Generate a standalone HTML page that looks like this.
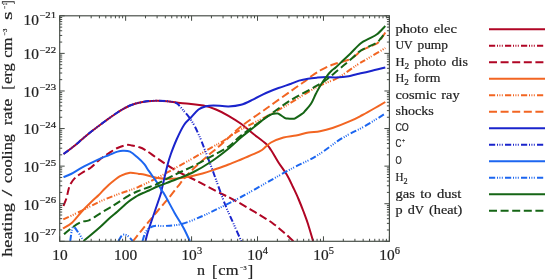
<!DOCTYPE html>
<html><head><meta charset="utf-8"><title>heating / cooling rate</title>
<style>
html,body{margin:0;padding:0;background:#fff;}
body{width:545px;height:280px;overflow:hidden;}
svg{display:block;}
text{font-family:"Liberation Serif",serif;fill:#222;stroke:#222;stroke-width:0.2px;}
</style></head><body>
<svg width="545" height="280" viewBox="0 0 545 280">
<rect width="545" height="280" fill="#fff"/>
<defs><clipPath id="cp"><rect x="59.7" y="15.8" width="329.7" height="225.5"/></clipPath></defs>

<g clip-path="url(#cp)" fill="none" stroke-linejoin="round">
<path d="M63.5,154.0 C65.1,152.8 69.9,149.4 72.9,147.0 C76.0,144.6 78.6,142.2 81.8,139.5 C85.0,136.8 88.1,134.0 92.0,131.0 C95.9,128.0 100.8,124.3 105.0,121.2 C109.2,118.2 113.3,115.1 117.5,112.5 C121.7,109.9 125.8,107.2 130.0,105.5 C134.2,103.8 138.3,102.8 142.5,102.0 C146.7,101.2 150.8,100.9 155.0,100.8 C159.2,100.6 163.3,100.9 167.5,101.2 C171.7,101.6 176.1,102.5 180.0,103.0 C183.9,103.5 187.1,103.6 191.0,104.0 C194.9,104.4 199.3,104.7 203.5,105.6 C207.7,106.5 211.8,107.8 216.0,109.5 C220.2,111.2 224.3,113.4 228.5,115.8 C232.7,118.2 236.8,120.8 241.0,123.8 C245.2,126.8 249.3,130.7 253.5,134.0 C257.7,137.3 263.1,141.1 266.0,143.8 C268.9,146.4 268.9,146.9 271.0,150.0 C273.1,153.1 275.8,158.3 278.5,162.5 C281.2,166.7 284.6,170.9 287.0,175.0 C289.4,179.1 291.1,183.0 293.0,187.0 C294.9,191.0 296.8,194.9 298.5,199.0 C300.2,203.1 301.9,207.3 303.5,211.5 C305.1,215.7 306.4,219.0 308.0,224.0 C309.6,229.0 312.3,238.6 313.2,241.5" stroke="#b00524" stroke-width="2.0"/>
<path d="M63.5,206.0 C64.0,204.6 65.8,200.4 66.6,197.7 C67.4,195.0 67.8,192.2 68.4,190.0 C69.0,187.8 69.2,186.5 70.2,184.6 C71.2,182.7 72.7,180.3 74.6,178.4 C76.5,176.5 79.1,174.8 81.8,173.0 C84.5,171.2 87.7,169.9 90.7,167.7 C93.7,165.5 96.6,162.0 99.6,159.6 C102.6,157.2 105.6,155.3 108.6,153.4 C111.6,151.5 114.5,149.4 117.5,148.0 C120.5,146.6 124.0,145.4 126.4,145.0 C128.8,144.6 129.7,145.1 131.8,145.4 C133.9,145.8 136.7,146.4 138.9,147.1 C141.1,147.8 141.8,147.9 145.0,149.8 C148.2,151.7 152.8,155.3 157.9,158.8 C163.0,162.2 169.5,166.9 175.7,170.4 C181.9,173.9 188.3,176.6 195.0,180.0 C201.7,183.4 209.0,187.4 216.0,191.0 C223.0,194.6 228.9,197.1 237.2,201.7 C245.5,206.3 259.7,214.9 266.0,218.8 C272.3,222.7 271.8,222.6 275.0,225.0 C278.2,227.4 281.9,230.8 285.0,233.5 C288.1,236.2 292.3,240.2 293.8,241.5" stroke="#b00524" stroke-width="2.0" stroke-dasharray="8 3.6"/>
<path d="M63.0,228.5 C64.5,227.5 68.9,225.5 72.0,222.7 C75.1,219.9 78.7,214.9 81.8,211.5 C84.9,208.1 87.9,205.2 90.7,202.5 C93.5,199.8 96.4,197.3 98.8,195.0 C101.1,192.7 102.8,190.7 105.0,188.5 C107.2,186.3 109.4,184.1 112.1,182.0 C114.8,179.9 118.1,177.2 121.1,175.7 C124.1,174.1 127.0,173.0 130.0,172.7 C133.0,172.4 136.4,173.6 138.9,173.9 C141.4,174.2 141.8,174.1 145.0,174.8 C148.2,175.5 153.7,177.3 157.9,178.0 C162.1,178.7 166.0,178.9 170.4,178.8 C174.8,178.7 179.2,178.4 184.6,177.5 C189.9,176.6 197.3,174.9 202.5,173.5 C207.7,172.1 211.7,170.5 216.0,169.0 C220.3,167.5 224.3,166.1 228.5,164.5 C232.7,162.9 236.8,161.2 241.0,159.5 C245.2,157.8 250.0,155.8 253.5,154.2 C257.0,152.7 259.1,152.0 262.0,150.0 C264.9,148.0 267.4,144.6 271.0,142.5 C274.6,140.4 279.3,138.7 283.5,137.5 C287.7,136.3 291.8,136.3 296.0,135.5 C300.2,134.7 304.5,133.2 308.5,132.5 C312.5,131.8 316.0,132.0 320.0,131.2 C324.0,130.5 327.5,129.7 332.5,128.0 C337.5,126.3 345.0,123.4 350.0,121.2 C355.0,119.1 358.3,117.2 362.5,115.0 C366.7,112.8 371.2,110.2 375.0,108.0 C378.8,105.8 383.6,103.0 385.3,102.0" stroke="#f26522" stroke-width="2.0"/>
<path d="M63.3,219.4 C66.5,217.9 76.2,213.4 82.5,210.3 C88.8,207.2 94.8,203.8 100.9,201.1 C107.0,198.3 113.1,196.1 119.2,193.8 C125.3,191.5 131.2,190.0 137.6,187.3 C144.0,184.6 151.6,180.8 157.9,177.5 C164.2,174.2 169.8,171.1 175.7,167.8 C181.6,164.5 187.6,161.3 193.6,157.9 C199.6,154.5 206.3,150.5 211.4,147.6 C216.5,144.7 219.1,143.5 224.0,140.5 C228.9,137.5 231.9,134.6 241.0,129.5 C250.1,124.4 266.0,117.0 278.5,110.0 C291.0,103.0 306.2,92.8 316.0,87.5 C325.8,82.2 330.7,81.8 337.5,78.0 C344.3,74.2 351.5,68.5 356.9,65.0 C362.3,61.5 365.3,60.0 370.0,57.2 C374.7,54.4 382.8,49.5 385.3,48.0" stroke="#f26522" stroke-width="2.0" stroke-dasharray="6.2 1.8 1 1.4 1 1.4 1 2.2"/>
<path d="M132.7,241.5 C133.9,240.0 137.5,235.4 140.0,232.3 C142.5,229.2 144.9,226.3 147.9,222.7 C150.9,219.1 154.4,214.7 158.0,210.5 C161.6,206.3 166.0,201.3 169.3,197.3 C172.6,193.3 175.0,190.1 177.8,186.5 C180.7,182.9 183.2,179.5 186.4,176.0 C189.6,172.5 193.5,168.7 197.1,165.3 C200.7,161.9 204.2,158.9 207.8,155.8 C211.4,152.7 215.0,149.9 218.5,146.8 C222.0,143.7 225.2,140.7 229.0,137.3 C232.8,133.9 234.8,131.3 241.0,126.5 C247.2,121.7 257.7,114.7 266.0,108.8 C274.3,102.8 284.8,95.4 291.0,91.0 C297.2,86.6 300.0,84.8 303.5,82.3 C307.0,79.8 309.2,77.8 312.0,75.8 C314.8,73.8 317.6,71.9 320.0,70.5 C322.4,69.1 324.8,68.1 326.7,67.2 C328.6,66.3 329.7,65.8 331.2,65.2 C332.7,64.6 333.9,64.1 335.9,63.5 C337.9,62.9 340.6,62.2 343.0,61.5 C345.4,60.8 348.0,60.3 350.5,59.0 C353.0,57.7 356.2,54.9 357.9,53.5 C359.6,52.1 358.6,51.9 360.5,50.8 C362.4,49.7 366.2,48.2 369.0,47.0 C371.8,45.8 375.0,44.8 377.0,43.5 C379.0,42.2 379.6,40.8 381.0,39.0 C382.4,37.2 384.6,33.6 385.3,32.5" stroke="#f26522" stroke-width="2.0" stroke-dasharray="8 3.6"/>
<path d="M145.5,241.0 C146.0,239.2 146.0,237.7 148.5,230.0 C151.0,222.3 158.2,201.7 160.4,195.0 C162.6,188.3 160.9,192.8 161.6,190.0 C162.3,187.2 163.4,182.2 164.4,178.0 C165.4,173.8 166.4,169.2 167.5,165.0 C168.6,160.8 169.7,157.2 171.2,153.0 C172.8,148.8 174.5,144.2 176.6,139.5 C178.7,134.8 181.6,128.7 184.0,125.0 C186.4,121.3 188.6,120.1 191.0,117.5 C193.4,114.9 196.0,111.4 198.5,109.5 C201.0,107.6 203.5,106.9 206.0,106.2 C208.5,105.5 209.8,105.4 213.5,105.4 C217.2,105.4 223.9,106.5 228.5,106.4 C233.1,106.3 236.8,106.0 241.0,104.8 C245.2,103.6 249.3,101.3 253.5,99.3 C257.7,97.3 261.8,94.9 266.0,93.0 C270.2,91.1 274.3,89.5 278.5,88.0 C282.7,86.5 287.6,85.0 291.0,83.8 C294.4,82.5 296.2,81.4 299.0,80.6 C301.8,79.8 304.9,79.2 308.0,78.7 C311.1,78.2 314.4,77.9 317.5,77.6 C320.6,77.3 323.6,77.1 326.7,77.1 C329.8,77.1 332.2,77.5 335.9,77.4 C339.6,77.3 345.1,76.9 348.7,76.3 C352.3,75.7 353.9,74.8 357.5,74.0 C361.1,73.2 365.4,72.3 370.0,71.2 C374.6,70.2 382.8,68.1 385.3,67.5" stroke="#1a24cc" stroke-width="2.0"/>
<path d="M63.5,154.0 C65.1,152.8 69.9,149.4 72.9,147.0 C76.0,144.6 78.6,142.2 81.8,139.5 C85.0,136.8 88.1,134.0 92.0,131.0 C95.9,128.0 100.8,124.3 105.0,121.2 C109.2,118.2 113.3,115.1 117.5,112.5 C121.7,109.9 125.8,107.2 130.0,105.5 C134.2,103.8 138.3,102.8 142.5,102.0 C146.7,101.2 150.8,100.9 155.0,100.8 C159.2,100.6 164.3,101.0 167.5,101.2 C170.7,101.5 172.2,101.7 174.0,102.2 C175.8,102.7 176.5,103.0 178.0,104.3 C179.5,105.6 181.1,107.8 183.0,110.0 C184.9,112.2 187.4,114.8 189.4,117.6 C191.4,120.4 193.2,123.3 195.0,126.8 C196.8,130.3 198.9,135.0 200.5,138.7 C202.1,142.4 203.3,145.8 204.5,149.0 C205.7,152.2 206.7,154.7 207.9,157.9 C209.1,161.1 210.4,164.3 211.8,168.0 C213.2,171.7 213.8,173.8 216.1,180.0 C218.3,186.2 222.5,197.9 225.3,205.0 C228.1,212.1 230.3,216.4 233.0,222.5 C235.7,228.6 240.0,238.3 241.4,241.5" stroke="#1a24cc" stroke-width="2.0" stroke-dasharray="6.2 1.8 1 1.4 1 1.4 1 2.2"/>
<path d="M63.5,177.1 C64.8,176.6 68.0,175.6 71.0,174.0 C74.0,172.4 78.5,169.5 81.8,167.7 C85.1,165.9 87.7,164.7 90.7,163.2 C93.7,161.7 96.6,160.1 99.6,158.8 C102.6,157.4 105.6,156.4 108.6,155.2 C111.6,154.0 115.1,152.3 117.5,151.6 C119.9,150.8 120.8,150.7 122.9,150.7 C125.0,150.7 127.6,150.5 130.0,151.6 C132.4,152.7 134.7,154.9 137.1,157.0 C139.5,159.1 142.3,161.7 144.3,164.1 C146.3,166.5 146.7,168.0 149.0,171.2 C151.3,174.5 155.8,180.6 157.9,183.8 C160.0,186.9 160.2,188.1 161.4,190.0 C162.6,191.9 162.6,191.2 164.8,195.0 C167.0,198.8 171.5,207.4 174.6,212.9 C177.7,218.4 181.1,223.3 183.6,228.0 C186.1,232.7 188.8,238.8 189.8,241.0" stroke="#1c66f0" stroke-width="2.0"/>
<path d="M70.2,241.0 C70.7,238.7 71.6,228.6 72.9,227.1 C74.2,225.6 76.2,229.7 78.0,232.0 C79.8,234.3 82.6,239.5 83.5,241.0" stroke="#1c66f0" stroke-width="2.0" stroke-dasharray="6.2 1.8 1 1.4 1 1.4 1 2.2"/>
<path d="M118.4,241.0 C118.9,240.2 120.5,237.1 121.5,236.0 C122.5,234.9 123.4,234.5 124.6,234.6 C125.8,234.7 127.2,235.4 128.5,236.5 C129.8,237.6 132.0,240.2 132.7,241.0" stroke="#1c66f0" stroke-width="2.0" stroke-dasharray="6.2 1.8 1 1.4 1 1.4 1 2.2"/>
<path d="M142.5,241.0 C143.1,239.4 144.2,234.1 146.0,231.6 C147.8,229.1 149.9,227.2 153.2,226.2 C156.5,225.3 160.9,226.3 165.7,225.9 C170.5,225.5 175.9,225.6 181.8,224.0 C187.8,222.4 195.2,219.2 201.4,216.5 C207.7,213.8 212.7,211.2 219.3,208.0 C225.9,204.8 233.2,201.2 241.0,197.0 C248.8,192.8 257.7,187.7 266.0,183.0 C274.3,178.3 282.7,173.5 291.0,169.0 C299.3,164.5 308.2,160.9 316.0,156.2 C323.8,151.6 331.8,145.0 337.5,141.2 C343.2,137.5 345.8,136.0 350.0,133.8 C354.2,131.5 358.3,129.8 362.5,127.5 C366.7,125.2 371.2,122.3 375.0,120.0 C378.8,117.7 383.6,114.6 385.3,113.5" stroke="#1c66f0" stroke-width="2.0" stroke-dasharray="6.2 1.8 1 1.4 1 1.4 1 2.2"/>
<path d="M83.5,241.0 C86.2,238.8 95.2,231.4 99.6,227.5 C104.0,223.6 107.0,220.4 110.0,217.7 C113.0,215.0 114.4,214.2 117.5,211.5 C120.6,208.8 125.2,204.4 128.4,201.8 C131.7,199.2 134.6,197.5 137.0,196.0 C139.4,194.5 141.0,193.9 143.0,193.0 C145.0,192.1 146.5,191.6 149.0,190.5 C151.5,189.4 153.5,188.1 157.9,186.3 C162.3,184.5 169.8,181.9 175.7,179.5 C181.6,177.1 187.6,175.0 193.6,172.0 C199.6,169.0 205.4,165.5 211.4,161.5 C217.4,157.5 224.4,152.0 229.3,148.0 C234.2,144.0 237.0,140.9 241.0,137.5 C245.0,134.1 249.3,130.8 253.5,127.5 C257.7,124.2 262.9,119.8 266.0,117.5 C269.1,115.2 270.4,114.7 272.1,114.0 C273.9,113.3 275.5,113.5 276.5,113.4 C277.5,113.3 277.5,113.4 278.0,113.6 C278.5,113.8 278.4,113.7 279.5,114.4 C280.6,115.1 283.2,116.9 284.3,117.6 C285.4,118.3 285.4,118.2 285.9,118.4 C286.4,118.6 286.4,118.5 287.5,118.6 C288.6,118.7 291.4,118.8 292.5,118.8 C293.6,118.9 293.6,118.9 294.1,118.8 C294.6,118.7 294.2,118.9 295.5,118.1 C296.8,117.3 300.7,114.8 302.0,113.9 C303.3,113.0 302.9,113.3 303.3,112.9 C303.7,112.5 303.2,113.1 304.5,111.6 C305.8,110.1 309.1,106.8 311.0,103.8 C312.9,100.8 314.3,96.7 316.0,93.5 C317.7,90.3 319.2,87.4 321.0,84.5 C322.8,81.6 324.9,78.6 326.7,76.3 C328.4,74.0 330.0,72.3 331.5,70.8 C333.0,69.3 334.0,69.0 335.9,67.3 C337.8,65.6 340.6,62.8 343.0,60.5 C345.4,58.2 347.6,56.3 350.5,53.5 C353.4,50.7 357.4,46.0 360.5,43.5 C363.6,41.0 366.2,40.2 369.0,38.7 C371.8,37.2 374.3,36.4 377.0,34.3 C379.7,32.2 383.9,27.4 385.3,26.0" stroke="#156515" stroke-width="2.0"/>
<path d="M64.0,234.3 C65.5,233.1 69.9,229.1 72.9,227.0 C75.9,224.9 79.1,222.9 81.8,221.8 C84.5,220.7 86.0,221.6 89.0,220.3 C92.0,219.0 96.1,215.9 99.6,213.8 C103.1,211.6 107.0,209.4 110.0,207.6 C113.0,205.8 114.4,204.8 117.5,202.8 C120.6,200.8 125.2,197.7 128.4,195.8 C131.7,193.9 134.6,192.6 137.0,191.5 C139.4,190.4 140.0,190.3 143.0,189.2 C146.0,188.1 152.5,185.9 155.0,185.0 C157.5,184.1 154.5,185.3 157.9,183.5 C161.3,181.7 169.8,177.2 175.7,174.3 C181.6,171.4 187.6,169.0 193.6,166.0 C199.6,163.0 205.4,159.6 211.4,156.3 C217.4,153.0 224.4,149.5 229.3,146.0 C234.2,142.5 234.9,140.2 241.0,135.5 C247.1,130.8 257.7,123.4 266.0,117.5 C274.3,111.6 282.7,105.2 291.0,100.0 C299.3,94.8 310.2,89.6 316.0,86.2 C321.8,82.9 322.4,82.6 326.0,80.0 C329.6,77.4 334.2,73.2 337.5,70.5 C340.8,67.8 343.3,65.8 346.0,63.5 C348.7,61.2 351.1,59.1 353.5,57.0 C355.9,54.9 357.9,52.5 360.5,50.8 C363.1,49.0 366.2,47.9 369.0,46.5 C371.8,45.1 375.1,43.8 377.0,42.5 C378.9,41.2 379.3,40.2 380.7,38.5 C382.1,36.8 384.5,33.5 385.3,32.5" stroke="#156515" stroke-width="2.0" stroke-dasharray="8 3.6"/>
</g>
<path d="M59.70,241.3 v-5 M59.70,15.8 v5 M79.55,241.3 v-2.5 M79.55,15.8 v2.5 M91.16,241.3 v-2.5 M91.16,15.8 v2.5 M99.40,241.3 v-2.5 M99.40,15.8 v2.5 M105.79,241.3 v-2.5 M105.79,15.8 v2.5 M111.01,241.3 v-2.5 M111.01,15.8 v2.5 M115.43,241.3 v-2.5 M115.43,15.8 v2.5 M119.25,241.3 v-2.5 M119.25,15.8 v2.5 M122.62,241.3 v-2.5 M122.62,15.8 v2.5 M125.64,241.3 v-5 M125.64,15.8 v5 M145.49,241.3 v-2.5 M145.49,15.8 v2.5 M157.10,241.3 v-2.5 M157.10,15.8 v2.5 M165.34,241.3 v-2.5 M165.34,15.8 v2.5 M171.73,241.3 v-2.5 M171.73,15.8 v2.5 M176.95,241.3 v-2.5 M176.95,15.8 v2.5 M181.37,241.3 v-2.5 M181.37,15.8 v2.5 M185.19,241.3 v-2.5 M185.19,15.8 v2.5 M188.56,241.3 v-2.5 M188.56,15.8 v2.5 M191.58,241.3 v-5 M191.58,15.8 v5 M211.43,241.3 v-2.5 M211.43,15.8 v2.5 M223.04,241.3 v-2.5 M223.04,15.8 v2.5 M231.28,241.3 v-2.5 M231.28,15.8 v2.5 M237.67,241.3 v-2.5 M237.67,15.8 v2.5 M242.89,241.3 v-2.5 M242.89,15.8 v2.5 M247.31,241.3 v-2.5 M247.31,15.8 v2.5 M251.13,241.3 v-2.5 M251.13,15.8 v2.5 M254.50,241.3 v-2.5 M254.50,15.8 v2.5 M257.52,241.3 v-5 M257.52,15.8 v5 M277.37,241.3 v-2.5 M277.37,15.8 v2.5 M288.98,241.3 v-2.5 M288.98,15.8 v2.5 M297.22,241.3 v-2.5 M297.22,15.8 v2.5 M303.61,241.3 v-2.5 M303.61,15.8 v2.5 M308.83,241.3 v-2.5 M308.83,15.8 v2.5 M313.25,241.3 v-2.5 M313.25,15.8 v2.5 M317.07,241.3 v-2.5 M317.07,15.8 v2.5 M320.44,241.3 v-2.5 M320.44,15.8 v2.5 M323.46,241.3 v-5 M323.46,15.8 v5 M343.31,241.3 v-2.5 M343.31,15.8 v2.5 M354.92,241.3 v-2.5 M354.92,15.8 v2.5 M363.16,241.3 v-2.5 M363.16,15.8 v2.5 M369.55,241.3 v-2.5 M369.55,15.8 v2.5 M374.77,241.3 v-2.5 M374.77,15.8 v2.5 M379.19,241.3 v-2.5 M379.19,15.8 v2.5 M383.01,241.3 v-2.5 M383.01,15.8 v2.5 M386.38,241.3 v-2.5 M386.38,15.8 v2.5 M389.40,241.3 v-5 M389.40,15.8 v5 M59.7,241.30 h5 M389.4,241.30 h-5 M59.7,229.99 h2.5 M389.4,229.99 h-2.5 M59.7,223.37 h2.5 M389.4,223.37 h-2.5 M59.7,218.67 h2.5 M389.4,218.67 h-2.5 M59.7,215.03 h2.5 M389.4,215.03 h-2.5 M59.7,212.05 h2.5 M389.4,212.05 h-2.5 M59.7,209.54 h2.5 M389.4,209.54 h-2.5 M59.7,207.36 h2.5 M389.4,207.36 h-2.5 M59.7,205.44 h2.5 M389.4,205.44 h-2.5 M59.7,203.72 h5 M389.4,203.72 h-5 M59.7,192.40 h2.5 M389.4,192.40 h-2.5 M59.7,185.78 h2.5 M389.4,185.78 h-2.5 M59.7,181.09 h2.5 M389.4,181.09 h-2.5 M59.7,177.45 h2.5 M389.4,177.45 h-2.5 M59.7,174.47 h2.5 M389.4,174.47 h-2.5 M59.7,171.96 h2.5 M389.4,171.96 h-2.5 M59.7,169.78 h2.5 M389.4,169.78 h-2.5 M59.7,167.85 h2.5 M389.4,167.85 h-2.5 M59.7,166.13 h5 M389.4,166.13 h-5 M59.7,154.82 h2.5 M389.4,154.82 h-2.5 M59.7,148.20 h2.5 M389.4,148.20 h-2.5 M59.7,143.51 h2.5 M389.4,143.51 h-2.5 M59.7,139.86 h2.5 M389.4,139.86 h-2.5 M59.7,136.89 h2.5 M389.4,136.89 h-2.5 M59.7,134.37 h2.5 M389.4,134.37 h-2.5 M59.7,132.19 h2.5 M389.4,132.19 h-2.5 M59.7,130.27 h2.5 M389.4,130.27 h-2.5 M59.7,128.55 h5 M389.4,128.55 h-5 M59.7,117.24 h2.5 M389.4,117.24 h-2.5 M59.7,110.62 h2.5 M389.4,110.62 h-2.5 M59.7,105.92 h2.5 M389.4,105.92 h-2.5 M59.7,102.28 h2.5 M389.4,102.28 h-2.5 M59.7,99.30 h2.5 M389.4,99.30 h-2.5 M59.7,96.79 h2.5 M389.4,96.79 h-2.5 M59.7,94.61 h2.5 M389.4,94.61 h-2.5 M59.7,92.69 h2.5 M389.4,92.69 h-2.5 M59.7,90.97 h5 M389.4,90.97 h-5 M59.7,79.65 h2.5 M389.4,79.65 h-2.5 M59.7,73.03 h2.5 M389.4,73.03 h-2.5 M59.7,68.34 h2.5 M389.4,68.34 h-2.5 M59.7,64.70 h2.5 M389.4,64.70 h-2.5 M59.7,61.72 h2.5 M389.4,61.72 h-2.5 M59.7,59.21 h2.5 M389.4,59.21 h-2.5 M59.7,57.03 h2.5 M389.4,57.03 h-2.5 M59.7,55.10 h2.5 M389.4,55.10 h-2.5 M59.7,53.38 h5 M389.4,53.38 h-5 M59.7,42.07 h2.5 M389.4,42.07 h-2.5 M59.7,35.45 h2.5 M389.4,35.45 h-2.5 M59.7,30.76 h2.5 M389.4,30.76 h-2.5 M59.7,27.11 h2.5 M389.4,27.11 h-2.5 M59.7,24.14 h2.5 M389.4,24.14 h-2.5 M59.7,21.62 h2.5 M389.4,21.62 h-2.5 M59.7,19.44 h2.5 M389.4,19.44 h-2.5 M59.7,17.52 h2.5 M389.4,17.52 h-2.5 M59.7,15.80 h5 M389.4,15.80 h-5" stroke="#444a44" stroke-width="1" fill="none"/>
<rect x="59.7" y="15.8" width="329.7" height="225.5" fill="none" stroke="#444a44" stroke-width="1.15"/>
<text transform="translate(39.00,24.90) scale(1.1,1)" font-size="14" text-anchor="end" >10</text>
<text transform="translate(39.20,18.40) scale(1.2,1)" font-size="9" text-anchor="start" >−21</text>
<text transform="translate(39.00,59.28) scale(1.1,1)" font-size="14" text-anchor="end" >10</text>
<text transform="translate(39.20,52.78) scale(1.2,1)" font-size="9" text-anchor="start" >−22</text>
<text transform="translate(39.00,96.87) scale(1.1,1)" font-size="14" text-anchor="end" >10</text>
<text transform="translate(39.20,90.37) scale(1.2,1)" font-size="9" text-anchor="start" >−23</text>
<text transform="translate(39.00,134.45) scale(1.1,1)" font-size="14" text-anchor="end" >10</text>
<text transform="translate(39.20,127.95) scale(1.2,1)" font-size="9" text-anchor="start" >−24</text>
<text transform="translate(39.00,172.03) scale(1.1,1)" font-size="14" text-anchor="end" >10</text>
<text transform="translate(39.20,165.53) scale(1.2,1)" font-size="9" text-anchor="start" >−25</text>
<text transform="translate(39.00,209.62) scale(1.1,1)" font-size="14" text-anchor="end" >10</text>
<text transform="translate(39.20,203.12) scale(1.2,1)" font-size="9" text-anchor="start" >−26</text>
<text transform="translate(39.00,241.60) scale(1.1,1)" font-size="14" text-anchor="end" >10</text>
<text transform="translate(39.20,235.10) scale(1.2,1)" font-size="9" text-anchor="start" >−27</text>
<text transform="translate(60.00,259.90) scale(1.1,1)" font-size="14" text-anchor="middle" >10</text>
<text transform="translate(125.64,259.90) scale(1.1,1)" font-size="14" text-anchor="middle" >100</text>
<text transform="translate(196.78,259.90) scale(1.1,1)" font-size="14" text-anchor="end" >10</text>
<text transform="translate(196.88,254.30) scale(1.1,1)" font-size="9.5" text-anchor="start" >3</text>
<text transform="translate(262.72,259.90) scale(1.1,1)" font-size="14" text-anchor="end" >10</text>
<text transform="translate(262.82,254.30) scale(1.1,1)" font-size="9.5" text-anchor="start" >4</text>
<text transform="translate(328.66,259.90) scale(1.1,1)" font-size="14" text-anchor="end" >10</text>
<text transform="translate(328.76,254.30) scale(1.1,1)" font-size="9.5" text-anchor="start" >5</text>
<text transform="translate(394.60,259.90) scale(1.1,1)" font-size="14" text-anchor="end" >10</text>
<text transform="translate(394.70,254.30) scale(1.1,1)" font-size="9.5" text-anchor="start" >6</text>
<text transform="translate(197.00,275.00) scale(1.15,1)" font-size="14" text-anchor="start" >n</text>
<text transform="translate(212.00,276.60) scale(1.0,1)" font-size="16.5" text-anchor="start" >[</text>
<text transform="translate(218.30,275.00) scale(1.18,1)" font-size="14" text-anchor="start" >cm</text>
<text transform="translate(240.00,269.90) scale(1.0,1)" font-size="6.2" text-anchor="start" >−3</text>
<text transform="translate(247.80,276.60) scale(1.0,1)" font-size="16.5" text-anchor="start" >]</text>
<text transform="translate(11.60,256.80) rotate(-90)" font-size="14" textLength="53.6" lengthAdjust="spacingAndGlyphs">heating</text>
<text transform="translate(11.60,196.30) rotate(-90)" font-size="14" textLength="6.5" lengthAdjust="spacingAndGlyphs">/</text>
<text transform="translate(11.60,182.90) rotate(-90)" font-size="14" textLength="48.8" lengthAdjust="spacingAndGlyphs">cooling</text>
<text transform="translate(11.60,125.20) rotate(-90)" font-size="14" textLength="26.5" lengthAdjust="spacingAndGlyphs">rate</text>
<text transform="translate(11.80,89.40) rotate(-90)" font-size="15.5" textLength="4.2" lengthAdjust="spacingAndGlyphs">[</text>
<text transform="translate(11.60,84.10) rotate(-90)" font-size="14" textLength="20.8" lengthAdjust="spacingAndGlyphs">erg</text>
<text transform="translate(11.60,57.80) rotate(-90)" font-size="14" textLength="20.4" lengthAdjust="spacingAndGlyphs">cm</text>
<text transform="translate(6.60,35.30) rotate(-90)" font-size="6.5" textLength="6.6" lengthAdjust="spacingAndGlyphs">−3</text>
<text transform="translate(11.60,20.10) rotate(-90)" font-size="14" textLength="8.6" lengthAdjust="spacingAndGlyphs">s</text>
<text transform="translate(6.60,8.80) rotate(-90)" font-size="6.5" textLength="6.0" lengthAdjust="spacingAndGlyphs">−1</text>
<text transform="translate(11.80,4.60) rotate(-90)" font-size="15.5" textLength="4.2" lengthAdjust="spacingAndGlyphs">]</text>
<text x="395.4" y="32.5" font-size="13" textLength="61.6" lengthAdjust="spacingAndGlyphs" word-spacing="1.5">photo elec</text>
<path d="M489,29.3 H546" stroke="#b00524" stroke-width="2.0" fill="none"/>
<text x="395.4" y="49.0" font-size="13" textLength="52.6" lengthAdjust="spacingAndGlyphs" word-spacing="1.5"><tspan font-size="11.5">UV</tspan> pump</text>
<path d="M489,45.8 H546" stroke="#b00524" stroke-width="2.0" fill="none" stroke-dasharray="6.2 1.8 1 1.4 1 1.4 1 2.2"/>
<text x="395.4" y="65.5" font-size="13" textLength="72.6" lengthAdjust="spacingAndGlyphs" word-spacing="1.5"><tspan font-size="11.5">H</tspan><tspan font-size="8.5" dy="3">2</tspan><tspan dy="-3"> photo dis</tspan></text>
<path d="M489,62.3 H546" stroke="#b00524" stroke-width="2.0" fill="none" stroke-dasharray="8 3.6"/>
<text x="395.4" y="82.0" font-size="13" textLength="45.1" lengthAdjust="spacingAndGlyphs" word-spacing="1.5"><tspan font-size="11.5">H</tspan><tspan font-size="8.5" dy="3">2</tspan><tspan dy="-3"> form</tspan></text>
<path d="M489,78.8 H546" stroke="#f26522" stroke-width="2.0" fill="none"/>
<text x="395.4" y="98.5" font-size="13" textLength="64.2" lengthAdjust="spacingAndGlyphs" word-spacing="1.5">cosmic ray</text>
<path d="M489,95.3 H546" stroke="#f26522" stroke-width="2.0" fill="none" stroke-dasharray="6.2 1.8 1 1.4 1 1.4 1 2.2"/>
<text x="395.4" y="115.0" font-size="13" textLength="38.4" lengthAdjust="spacingAndGlyphs" word-spacing="1.5">shocks</text>
<path d="M489,111.8 H546" stroke="#f26522" stroke-width="2.0" fill="none" stroke-dasharray="8 3.6"/>
<text x="395.4" y="130.7" font-size="13" textLength="13.4" lengthAdjust="spacingAndGlyphs" word-spacing="1.5"><tspan font-family="Liberation Sans, sans-serif" font-size="10.5">CO</tspan></text>
<path d="M489,128.3 H546" stroke="#1a24cc" stroke-width="2.0" fill="none"/>
<text x="395.4" y="147.2" font-size="13" textLength="9.8" lengthAdjust="spacingAndGlyphs" word-spacing="1.5"><tspan font-family="Liberation Sans, sans-serif" font-size="10.5">C</tspan><tspan font-size="7" dy="-4.5" dx="1">+</tspan></text>
<path d="M489,144.8 H546" stroke="#1a24cc" stroke-width="2.0" fill="none" stroke-dasharray="6.2 1.8 1 1.4 1 1.4 1 2.2"/>
<text x="395.4" y="163.7" font-size="13" textLength="6.2" lengthAdjust="spacingAndGlyphs" word-spacing="1.5"><tspan font-family="Liberation Sans, sans-serif" font-size="10.5">O</tspan></text>
<path d="M489,161.3 H546" stroke="#1c66f0" stroke-width="2.0" fill="none"/>
<text x="395.4" y="181.0" font-size="13" textLength="12.1" lengthAdjust="spacingAndGlyphs" word-spacing="1.5"><tspan font-size="11.5">H</tspan><tspan font-size="8.5" dy="3">2</tspan></text>
<path d="M489,177.8 H546" stroke="#1c66f0" stroke-width="2.0" fill="none" stroke-dasharray="6.2 1.8 1 1.4 1 1.4 1 2.2"/>
<text x="395.4" y="197.5" font-size="13" textLength="66" lengthAdjust="spacingAndGlyphs" word-spacing="1.5">gas to dust</text>
<path d="M489,194.3 H546" stroke="#156515" stroke-width="2.0" fill="none"/>
<text x="395.4" y="214.0" font-size="13" textLength="66.9" lengthAdjust="spacingAndGlyphs" word-spacing="1.5">p d<tspan font-size="11.5">V</tspan> (heat)</text>
<path d="M489,210.8 H546" stroke="#156515" stroke-width="2.0" fill="none" stroke-dasharray="8 3.6"/>
</svg></body></html>
